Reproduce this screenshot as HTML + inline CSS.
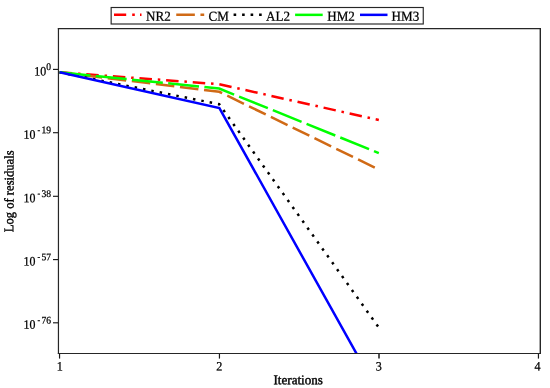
<!DOCTYPE html>
<html>
<head>
<meta charset="utf-8">
<title>Log of residuals</title>
<style>
html,body{margin:0;padding:0;background:#fff;}
body{width:550px;height:388px;overflow:hidden;}
svg{display:block;}
text{text-rendering:geometricPrecision;font-family:"Liberation Serif","DejaVu Serif",serif;fill:#000;stroke:#000;stroke-width:0.25px;}
</style>
</head>
<body>
<svg width="550" height="388" viewBox="0 0 550 388">
<rect x="0" y="0" width="550" height="388" fill="#ffffff"/>
<defs>
<clipPath id="plotclip"><rect x="58" y="28" width="482" height="325.7"/></clipPath>
</defs>

<!-- data lines -->
<g clip-path="url(#plotclip)" fill="none" stroke-width="2.5" stroke-linejoin="miter">
  <polyline points="59.6,72.3 219.2,84.2 378.8,120" stroke="#ff0000" stroke-dasharray="12.5 5.85 2.5 5.85"/>
  <polyline points="59.6,72.3 219.2,91.8 378.8,169.5" stroke="#d06a16" stroke-dasharray="18.55 5.7"/>
  <polyline points="59.6,72.3 219.2,104.2 378.8,327.6" stroke="#000000" stroke-dasharray="2.5 6"/>
  <polyline points="59.6,72.3 219.2,88.5 378.8,153.1" stroke="#00ff00" stroke-dasharray="31 5.38"/>
  <polyline points="59.6,72.3 219.4,108.1 378.8,393.5" stroke="#0000ff"/>
</g>

<!-- frame -->
<g stroke="#262626" fill="none">
  <line x1="57.85" y1="28.65" x2="541" y2="28.65" stroke-width="1.3"/>
  <line x1="57.85" y1="353.45" x2="541" y2="353.45" stroke-width="1.1"/>
  <line x1="58.45" y1="28" x2="58.45" y2="354" stroke-width="1.2"/>
  <line x1="540.3" y1="28" x2="540.3" y2="354" stroke-width="1.4"/>
</g>

<!-- ticks -->
<g stroke="#1a1a1a" stroke-width="1" fill="none">
  <line x1="53" y1="69.4" x2="58" y2="69.4" stroke-width="1.15"/>
  <line x1="53" y1="132.7" x2="58" y2="132.7" stroke-width="1.15"/>
  <line x1="53" y1="196.3" x2="58" y2="196.3" stroke-width="1.15"/>
  <line x1="53" y1="259.6" x2="58" y2="259.6" stroke-width="1.15"/>
  <line x1="53" y1="322.8" x2="58" y2="322.8" stroke-width="1.15"/>
  <line x1="59.55" y1="354" x2="59.55" y2="358.6" stroke-width="1.2"/>
  <line x1="219.45" y1="354" x2="219.45" y2="358.6" stroke-width="1.2"/>
  <line x1="379.0" y1="354" x2="379.0" y2="358.6" stroke-width="1.5"/>
  <line x1="538.45" y1="354" x2="538.45" y2="358.6" stroke-width="1.2"/>
</g>
<!-- y tick labels -->
<text transform="translate(46.2,75.4) rotate(0.05) scale(0.93,1.0)" font-size="12.8" text-anchor="end">10</text>
<text transform="translate(51.0,70.0) rotate(0.05) scale(0.95,1.0)" font-size="10.1" text-anchor="end">0</text>
<text transform="translate(35.4,138.7) rotate(0.05) scale(0.93,1.0)" font-size="12.8" text-anchor="end">10</text>
<text transform="translate(37.55,132.9) rotate(0.05) scale(0.78,1.0)" font-size="10.1" text-anchor="start">-</text>
<text transform="translate(51.0,133.3) rotate(0.05) scale(0.95,1.0)" font-size="10.1" text-anchor="end">19</text>
<text transform="translate(35.4,202.3) rotate(0.05) scale(0.93,1.0)" font-size="12.8" text-anchor="end">10</text>
<text transform="translate(37.55,196.5) rotate(0.05) scale(0.78,1.0)" font-size="10.1" text-anchor="start">-</text>
<text transform="translate(51.0,196.9) rotate(0.05) scale(0.95,1.0)" font-size="10.1" text-anchor="end">38</text>
<text transform="translate(35.4,265.6) rotate(0.05) scale(0.93,1.0)" font-size="12.8" text-anchor="end">10</text>
<text transform="translate(37.55,259.8) rotate(0.05) scale(0.78,1.0)" font-size="10.1" text-anchor="start">-</text>
<text transform="translate(51.0,260.2) rotate(0.05) scale(0.95,1.0)" font-size="10.1" text-anchor="end">57</text>
<text transform="translate(35.4,328.8) rotate(0.05) scale(0.93,1.0)" font-size="12.8" text-anchor="end">10</text>
<text transform="translate(37.55,323.0) rotate(0.05) scale(0.78,1.0)" font-size="10.1" text-anchor="start">-</text>
<text transform="translate(51.0,323.4) rotate(0.05) scale(0.95,1.0)" font-size="10.1" text-anchor="end">76</text>
<!-- x tick labels -->
<text transform="translate(59.9,370.5) rotate(0.05) scale(0.95,1.0)" font-size="12.8" text-anchor="middle">1</text>
<text transform="translate(219.2,370.5) rotate(0.05) scale(0.95,1.0)" font-size="12.8" text-anchor="middle">2</text>
<text transform="translate(378.7,370.5) rotate(0.05) scale(0.95,1.0)" font-size="12.8" text-anchor="middle">3</text>
<text transform="translate(537.6,370.5) rotate(0.05) scale(0.95,1.0)" font-size="12.8" text-anchor="middle">4</text>
<!-- axis labels -->
<text transform="translate(298.2,384.3) rotate(0.05) scale(0.983,1.0)" font-size="13.3" text-anchor="middle" style="stroke-width:0.4px">Iterations</text>
<text transform="translate(13.4,191.3) rotate(-89.95) scale(0.945,1.0)" font-size="13.3" text-anchor="middle" style="stroke-width:0.4px">Log of residuals</text>
<!-- legend -->
<rect x="111.15" y="7.5" width="312.1" height="16.5" fill="#fff" stroke="#262626" stroke-width="1.15"/>
<g fill="none" stroke-width="2.5">
  <line x1="114" y1="14.85" x2="141.5" y2="14.85" stroke="#ff0000" stroke-dasharray="12.2 6 2.6 5.2"/>
  <line x1="176.25" y1="14.85" x2="204.2" y2="14.85" stroke="#d06a16" stroke-dasharray="18.6 5.6"/>
  <line x1="233.6" y1="14.85" x2="262" y2="14.85" stroke="#000" stroke-dasharray="2.6 5.9"/>
  <line x1="295.1" y1="14.85" x2="322.7" y2="14.85" stroke="#00ff00"/>
  <line x1="360" y1="14.85" x2="387.5" y2="14.85" stroke="#0000ff"/>
</g>
<text transform="translate(146.0,20.8) rotate(0.05) scale(0.955,1.0)" font-size="13.7" text-anchor="start">NR2</text>
<text transform="translate(208.5,20.8) rotate(0.05) scale(0.955,1.0)" font-size="13.7" text-anchor="start">CM</text>
<text transform="translate(266.0,20.8) rotate(0.05) scale(0.955,1.0)" font-size="13.7" text-anchor="start">AL2</text>
<text transform="translate(327.3,20.8) rotate(0.05) scale(0.955,1.0)" font-size="13.7" text-anchor="start">HM2</text>
<text transform="translate(391.6,20.8) rotate(0.05) scale(0.955,1.0)" font-size="13.7" text-anchor="start">HM3</text>
</svg>
</body>
</html>
